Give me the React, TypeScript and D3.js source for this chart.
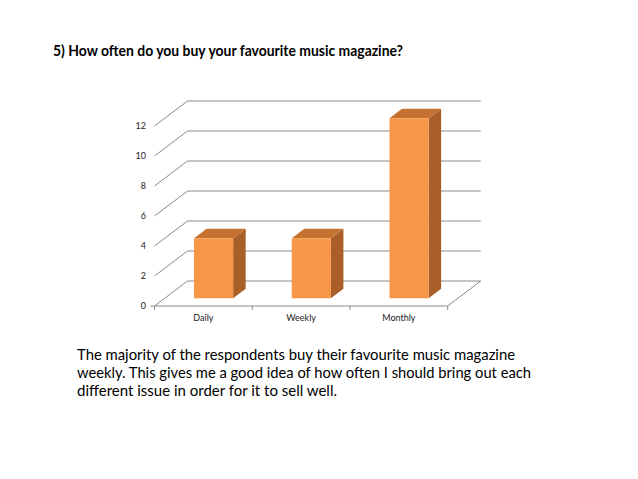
import * as d3 from 'd3';
import React from 'react';

// survey answers
const categories = ['Daily', 'Weekly', 'Monthly'];
const counts = [4, 4, 12];
const yTicks = [0, 2, 4, 6, 8, 10, 12];

const title = '5) How often do you buy your favourite music magazine?';
const commentLines = [
    'The majority of the respondents buy their favourite music magazine',
    'weekly. This gives me a good idea of how often I should bring out each',
    'different issue in order for it to sell well.',
];
const commentWidths = [438, 454, 260];

const App = () => {
    const width = 638;
    const height = 479;

    // front face of the plot box
    const left = 154.5;
    const right = 447.7;

    // 3d depth of the box and where the bars sit inside it
    const depth = { dx: 33, dy: -25 };
    const barStart = 0.31;
    const barDepth = 0.38;

    const xScale = d3
        .scaleBand()
        .domain(categories)
        .range([left, right])
        .paddingInner(0.6)
        .paddingOuter(0.3);

    const yScale = d3
        .scaleLinear()
        .domain([0, 12])
        .range([306, 126]);

    const grid = '#8a8a8a';
    const font = 'Lato, "Open Sans", sans-serif';
    const step = xScale.step();
    const boundaries = d3.range(categories.length + 1).map(i => left + i * step);

    return (
        <svg width={width} height={height}
            style={{ position: 'absolute', left: 0, top: 0, background: '#fff' }}>
            {/* title */}
            <text x={53} y={56} fontFamily={font} fontWeight="bold" fontSize={15}
                textLength={350} lengthAdjust="spacingAndGlyphs" fill="#000">{title}</text>

            {/* back wall gridlines */}
            {yTicks.map(t => (
                <line key={'b' + t}
                    x1={left + depth.dx} x2={right + depth.dx}
                    y1={yScale(t) + depth.dy} y2={yScale(t) + depth.dy}
                    stroke={grid} strokeWidth={1} />
            ))}

            {/* left wall gridlines */}
            {yTicks.map(t => (
                <line key={'l' + t}
                    x1={left} x2={left + depth.dx}
                    y1={yScale(t)} y2={yScale(t) + depth.dy}
                    stroke={grid} strokeWidth={1} />
            ))}

            {/* floor */}
            <line x1={left} x2={right} y1={yScale(0)} y2={yScale(0)} stroke={grid} strokeWidth={1} />
            <line x1={right} x2={right + depth.dx} y1={yScale(0)} y2={yScale(0) + depth.dy}
                stroke={grid} strokeWidth={1} />
            {boundaries.map((bx, i) => (
                <line key={'t' + i} x1={bx} x2={bx} y1={yScale(0)} y2={yScale(0) + 4}
                    stroke={grid} strokeWidth={1} />
            ))}
            <line x1={left - 4} x2={left} y1={yScale(0)} y2={yScale(0)} stroke={grid} strokeWidth={1} />

            {/* y tick labels */}
            {yTicks.map(t => (
                <text key={'y' + t} x={146} y={yScale(t) + 3} textAnchor="end"
                    fontFamily={font} fontSize={9} fill="#222">{t}</text>
            ))}

            {/* category labels */}
            {categories.map(c => (
                <text key={'c' + c} x={xScale(c) + xScale.bandwidth() / 2} y={321}
                    textAnchor="middle" fontFamily={font} fontSize={9} fill="#222">{c}</text>
            ))}

            {/* bars */}
            {categories.map((c, i) => {
                const x0 = xScale(c) + depth.dx * barStart;
                const x1 = x0 + xScale.bandwidth();
                const base = yScale(0) + depth.dy * barStart;
                const top = yScale(counts[i]) + depth.dy * barStart;
                const ddx = depth.dx * barDepth;
                const ddy = depth.dy * barDepth;
                return (
                    <g key={'bar' + c}>
                        <polygon
                            points={`${x1},${top} ${x1 + ddx},${top + ddy} ${x1 + ddx},${base + ddy} ${x1},${base}`}
                            fill="#a95f27" />
                        <polygon
                            points={`${x0},${top} ${x0 + ddx},${top + ddy} ${x1 + ddx},${top + ddy} ${x1},${top}`}
                            fill="#c5712f" />
                        <rect x={x0} y={top} width={x1 - x0} height={base - top} fill="#f79646" />
                    </g>
                );
            })}

            {/* comment under the chart */}
            {commentLines.map((line, i) => (
                <text key={'p' + i} x={77} y={360 + i * 18} fontFamily={font} fontSize={15}
                    textLength={commentWidths[i]} lengthAdjust="spacingAndGlyphs" fill="#000">{line}</text>
            ))}
        </svg>
    );
};

export default App;
